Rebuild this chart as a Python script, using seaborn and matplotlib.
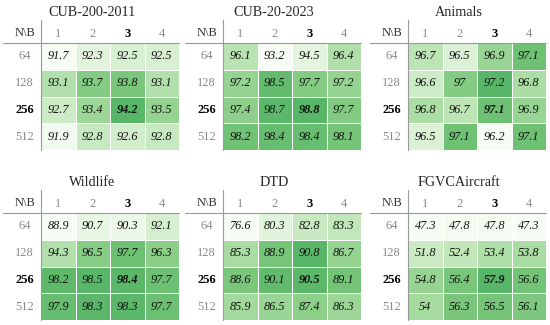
import numpy as np
import pandas as pd
import matplotlib
matplotlib.use("Agg")
import matplotlib.pyplot as plt
import seaborn as sns
from matplotlib.colors import LinearSegmentedColormap

sns.set_theme(style="white")
plt.rcParams['font.family'] = ['Liberation Serif', 'DejaVu Serif']

titles = ["CUB-200-2011", "CUB-20-2023", "Animals", "Wildlife", "DTD", "FGVCAircraft"]
row_labels = ["64", "128", "256", "512"]
col_labels = ["1", "2", "3", "4"]

cub200 = [[91.7, 92.3, 92.5, 92.5],
          [93.1, 93.7, 93.8, 93.1],
          [92.7, 93.4, 94.2, 93.5],
          [91.9, 92.8, 92.6, 92.8]]
cub20 = [[96.1, 93.2, 94.5, 96.4],
         [97.2, 98.5, 97.7, 97.2],
         [97.4, 98.7, 98.8, 97.7],
         [98.2, 98.4, 98.4, 98.1]]
animals = [[96.7, 96.5, 96.9, 97.1],
           [96.6, 97.0, 97.2, 96.8],
           [96.8, 96.7, 97.1, 96.9],
           [96.5, 97.1, 96.2, 97.1]]
wildlife = [[88.9, 90.7, 90.3, 92.1],
            [94.3, 96.5, 97.7, 96.3],
            [98.2, 98.5, 98.4, 97.7],
            [97.9, 98.3, 98.3, 97.7]]
dtd = [[76.6, 80.3, 82.8, 83.3],
       [85.3, 88.9, 90.8, 86.7],
       [88.6, 90.1, 90.5, 89.1],
       [85.9, 86.5, 87.4, 86.3]]
aircraft = [[47.3, 47.8, 47.8, 47.3],
            [51.8, 52.4, 53.4, 53.8],
            [54.8, 56.4, 57.9, 56.6],
            [54.0, 56.3, 56.5, 56.1]]
labels_text = [
    [["91.7", "92.3", "92.5", "92.5"], ["93.1", "93.7", "93.8", "93.1"], ["92.7", "93.4", "94.2", "93.5"], ["91.9", "92.8", "92.6", "92.8"]],
    [["96.1", "93.2", "94.5", "96.4"], ["97.2", "98.5", "97.7", "97.2"], ["97.4", "98.7", "98.8", "97.7"], ["98.2", "98.4", "98.4", "98.1"]],
    [["96.7", "96.5", "96.9", "97.1"], ["96.6", "97", "97.2", "96.8"], ["96.8", "96.7", "97.1", "96.9"], ["96.5", "97.1", "96.2", "97.1"]],
    [["88.9", "90.7", "90.3", "92.1"], ["94.3", "96.5", "97.7", "96.3"], ["98.2", "98.5", "98.4", "97.7"], ["97.9", "98.3", "98.3", "97.7"]],
    [["76.6", "80.3", "82.8", "83.3"], ["85.3", "88.9", "90.8", "86.7"], ["88.6", "90.1", "90.5", "89.1"], ["85.9", "86.5", "87.4", "86.3"]],
    [["47.3", "47.8", "47.8", "47.3"], ["51.8", "52.4", "53.4", "53.8"], ["54.8", "56.4", "57.9", "56.6"], ["54", "56.3", "56.5", "56.1"]],
]
datasets = [cub200, cub20, animals, wildlife, dtd, aircraft]

greens = plt.get_cmap("Greens")
cmap = LinearSegmentedColormap.from_list("tg", greens(np.linspace(0.0, 0.57, 256)))

fig = plt.figure(figsize=(5.5, 3.25), dpi=100)
W, H = 550.0, 325.0
lefts = [41, 223, 408]
tops = [43, 213]
aw, ah = 138, 107

bold_row, bold_col = 2, 2
gray = "#8a8a8a"

for i, (title, data) in enumerate(zip(titles, datasets)):
    r, c = divmod(i, 3)
    ax = fig.add_axes([lefts[c] / W, 1 - (tops[r] + ah) / H, aw / W, ah / H])
    df = pd.DataFrame(data, index=row_labels, columns=col_labels)
    sns.heatmap(df, ax=ax, cmap=cmap, cbar=False, linewidths=0.4, linecolor="white",
                annot=np.array(labels_text[i]), fmt="",
                annot_kws={"fontsize": 8.8, "style": "italic", "color": "#111111"})
    for t in ax.texts:
        x, y = t.get_position()
        if int(x) == bold_col and int(y) == bold_row:
            t.set_fontweight("bold")
    ax.xaxis.tick_top()
    ax.tick_params(axis="x", length=0, pad=2)
    ax.tick_params(axis="y", length=0, pad=12)
    ax.set_xticklabels(col_labels, fontsize=9)
    ax.set_yticklabels(row_labels, fontsize=9, rotation=0)
    for j, lab in enumerate(ax.get_xticklabels()):
        if j == bold_col:
            lab.set_color("black"); lab.set_fontweight("bold")
        else:
            lab.set_color(gray)
    for j, lab in enumerate(ax.get_yticklabels()):
        lab.set_ha("center")
        if j == bold_row:
            lab.set_color("black"); lab.set_fontweight("bold")
        else:
            lab.set_color(gray)
    ax.set_xlabel(""); ax.set_ylabel("")
    for s in ax.spines.values():
        s.set_visible(False)
    ax.text(-0.47, -0.38, "N\\B", ha="center", va="center", fontsize=9, color="#333333")
    ax.plot([0, 0], [-0.85, 4.0], color="#999999", lw=0.8, clip_on=False)
    ax.plot([-1.1, 4.0], [0, 0], color="#999999", lw=0.8, clip_on=False)
    ax.set_title(title, fontsize=10.2, pad=9, x=0.37)

fig.savefig("out.png", dpi=100)
